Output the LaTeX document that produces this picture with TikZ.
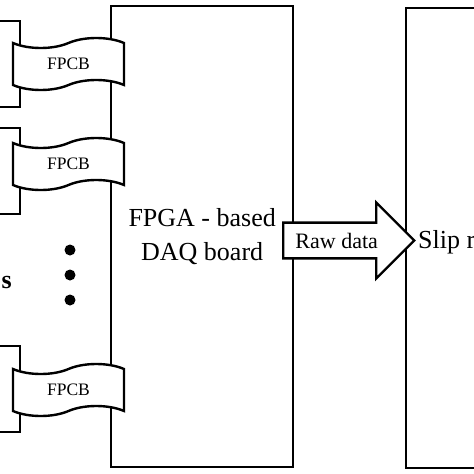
\documentclass[tikz,border=0pt]{standalone}
\usepackage{fontspec}
\setmainfont{Liberation Serif}
\usetikzlibrary{shapes.symbols,shapes.arrows}
\newcommand{\fpcbgen}[3]{
  \node(sensor-#1)[sensor,anchor=north east] at (21,#2){};
  \node(fpcb-#1)[fpcb] at (68.5,#3){FPCB};
}

\begin{document}
\begin{tikzpicture}[
  x=1pt,y=-1pt,
  line width=2.4pt,
  sensor/.style={draw,minimum width=90pt,minimum height=86pt,inner sep=0pt},
  board/.style={draw,inner sep=0pt},
  fpcb/.style={tape,draw,fill=white,minimum width=111pt,minimum height=52pt,
    tape bend height=10pt,font=\fontsize{17.5}{20}\selectfont},
  dot/.style={circle,fill,inner sep=0pt,minimum size=11pt},
  ]
  \useasboundingbox (0,0) rectangle (474,474);
  \clip (0,0) rectangle (474,474);
  \node(daq)[board,anchor=north west,minimum width=182pt,minimum height=461pt,
    align=center,font=\fontsize{26}{34}\selectfont] at (110,5){FPGA - based\\DAQ board};
  \node(slip)[board,anchor=north west,minimum width=120pt,minimum height=460pt] at (405,7){};
  \fpcbgen{a}{20}{64}
  \fpcbgen{b}{127}{164}
  \fpcbgen{c}{345}{390}
  \foreach \y in {250,275,300}
    \node(dot-\y)[dot] at (70,\y){};
  \node(sensor-label)[anchor=base west,inner sep=0pt,
    font=\bfseries\fontsize{26}{30}\selectfont] at (0.5,288){s};
  \node(raw)[single arrow,draw,fill=white,minimum height=131pt,
    single arrow head extend=20pt,inner xsep=2pt,inner ysep=9pt,anchor=tail,
    font=\fontsize{22}{24}\selectfont] at (282,240.5){Raw data\hspace*{6pt}};
  \node(slip-label)[anchor=base west,inner sep=0pt,
    font=\fontsize{26}{30}\selectfont] at (417,248){Slip r};
\end{tikzpicture}
\end{document}
